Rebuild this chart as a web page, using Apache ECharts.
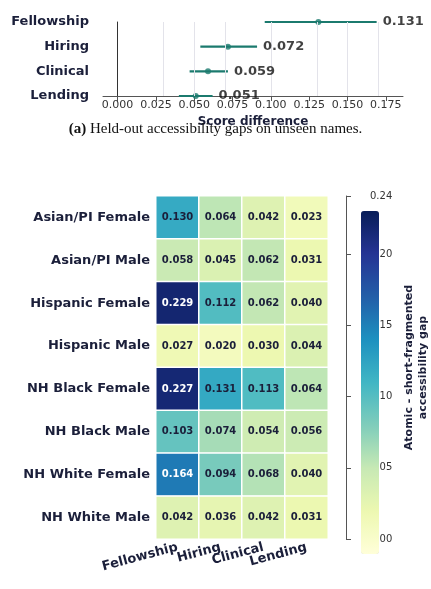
<!DOCTYPE html>
<html><head><meta charset="utf-8">
<script src="https://cdn.jsdelivr.net/npm/echarts@6/dist/echarts.min.js"></script>
<style>html,body{margin:0;padding:0;background:#fff}#c{width:431px;height:589px}</style>
</head><body><div id="c"></div>
<script>
const domains = ['Fellowship','Hiring','Clinical','Lending'];
const gapMean = [0.131, 0.072, 0.059, 0.051];
const gapLow  = [0.096, 0.054, 0.047, 0.040];
const gapHigh = [0.169, 0.091, 0.072, 0.062];
const xTicks = [0, 0.025, 0.05, 0.075, 0.1, 0.125, 0.15, 0.175];
const groups = ['Asian/PI Female','Asian/PI Male','Hispanic Female','Hispanic Male','NH Black Female','NH Black Male','NH White Female','NH White Male'];
const heatRows = [
 [0.130,0.064,0.042,0.023],
 [0.058,0.045,0.062,0.031],
 [0.229,0.112,0.062,0.040],
 [0.027,0.020,0.030,0.044],
 [0.227,0.131,0.113,0.064],
 [0.103,0.074,0.054,0.056],
 [0.164,0.094,0.068,0.040],
 [0.042,0.036,0.042,0.031]
];
const cbTicks = [0,0.05,0.10,0.15,0.20];

const F = 'DejaVu Sans';
const dark = '#1b1f3a';
const teal = '#1b7a6e';
const heatData = [];
heatRows.forEach((r,i)=>r.forEach((v,j)=>heatData.push([j,i,v])));
const ciData = domains.map((d,i)=>[gapLow[i],gapHigh[i],i]);

const chart = echarts.init(document.getElementById('c'));
chart.setOption({
 animation:false,
 textStyle:{fontFamily:F},
 title:{text:'{b|(a)} Held-out accessibility gaps on unseen names.',left:'center',top:117,
   textStyle:{fontFamily:'Liberation Serif',fontWeight:'normal',fontSize:15,color:'#111',rich:{b:{fontFamily:'Liberation Serif',fontWeight:'bold',fontSize:15,color:'#111'}}}},
 grid:[
  {left:103,width:300,top:22,height:74},
  {left:156,width:172,top:196,height:343},
  {left:346,width:18,top:196,height:343}
 ],
 xAxis:[
  {gridIndex:0,type:'value',min:-0.0095,max:0.1862,
   axisLine:{show:true,lineStyle:{color:'#555'}},axisTick:{show:true,customValues:xTicks,lineStyle:{color:'#555'}},
   axisLabel:{customValues:xTicks,formatter:v=>v.toFixed(3),color:'#333',fontSize:11,margin:4},
   splitLine:{show:false},
   name:'Score difference',nameLocation:'middle',nameGap:20,nameTextStyle:{fontWeight:'bold',fontSize:12,color:dark}},
  {gridIndex:1,type:'category',data:domains,axisLine:{show:false},axisTick:{show:false},
   axisLabel:{rotate:15,fontWeight:'bold',fontSize:13,color:dark,margin:8,interval:0}},
  {gridIndex:2,type:'value',show:false}
 ],
 yAxis:[
  {gridIndex:0,type:'category',data:domains,inverse:true,boundaryGap:false,min:-0.3,max:3.4,
   axisLine:{show:true,lineStyle:{color:'#333'}},axisTick:{show:false},
   axisLabel:{fontWeight:'bold',fontSize:13,color:dark,margin:14},splitLine:{show:false}},
  {gridIndex:1,type:'category',data:groups,inverse:true,axisLine:{show:false},axisTick:{show:false},
   axisLabel:{fontWeight:'bold',fontSize:13,color:dark,margin:6}},
  {gridIndex:2,type:'value',position:'right',min:0,max:0.241,interval:0.05,
   axisLine:{show:true,lineStyle:{color:'#555'}},axisTick:{show:true,lineStyle:{color:'#555'}},
   axisLabel:{formatter:v=>v.toFixed(2),color:'#333',fontSize:10},splitLine:{show:false},
   name:'Atomic - short-fragmented\naccessibility gap',nameLocation:'middle',nameGap:40,nameRotate:90,
   nameTextStyle:{fontWeight:'bold',fontSize:11,color:dark,lineHeight:14}}
 ],
 visualMap:{type:'continuous',min:0,max:0.241,seriesIndex:3,show:true,calculable:false,
   left:346,top:196,itemWidth:18,itemHeight:343,text:['',''],showLabel:false,
   inRange:{color:['#ffffd9','#edf8b1','#c7e9b4','#7fcdbb','#41b6c4','#1d91c0','#225ea8','#253494','#081d58']},
   borderColor:'#555',borderWidth:0},
 series:[
  {type:'line',xAxisIndex:0,yAxisIndex:0,data:[],symbol:'none',
   markLine:{silent:true,symbol:'none',label:{show:false},lineStyle:{color:'#e3e3ea',type:'solid',width:1},
     data:xTicks.slice(1).map(v=>({xAxis:v}))}},
  {type:'custom',xAxisIndex:0,yAxisIndex:0,data:ciData,z:3,
   renderItem:(p,api)=>{const a=api.coord([api.value(0),api.value(2)]);const b=api.coord([api.value(1),api.value(2)]);
     return {type:'line',shape:{x1:a[0],y1:a[1],x2:b[0],y2:b[1]},style:{stroke:teal,lineWidth:2.2}};}},
  {type:'scatter',xAxisIndex:0,yAxisIndex:0,z:4,symbolSize:6,itemStyle:{color:teal},
   data:gapMean.map((v,i)=>[v,i,gapHigh[i]]),
   label:{show:true,position:'right',fontWeight:'bold',fontSize:13,color:'#111',
     formatter:p=>p.value[0].toFixed(3),
     offset:[0,0]},
   labelLayout:p=>{return {}}},
  {type:'heatmap',xAxisIndex:1,yAxisIndex:1,data:heatData,
   itemStyle:{borderColor:'#fff',borderWidth:1.5},
   label:{show:true,fontWeight:'bold',fontSize:10,formatter:p=>p.value[2].toFixed(3),
     color:dark}}
 ]
});
// position value labels beyond the right end of CI bar
const opt = chart.getOption();
chart.setOption({series:[{},{},{label:{show:false}},{}]});
const labelSeries = {type:'scatter',xAxisIndex:0,yAxisIndex:0,symbolSize:0,z:5,
  data:gapHigh.map((v,i)=>[v,i,gapMean[i]]),
  label:{show:true,position:'right',distance:6,fontWeight:'bold',fontSize:13,color:'#111',formatter:p=>p.value[2].toFixed(3)}};
const hm = chart.getOption().series[3];
chart.setOption({series:[{},{},{},{
  label:{show:true,fontWeight:'bold',fontSize:10,formatter:p=>p.value[2].toFixed(3),
   color:'#1b1f3a', rich:{}}},labelSeries]});
// white labels on dark cells
chart.setOption({series:[{},{},{},{data:heatData.map(d=>({value:d,label:{color:d[2]>0.15?'#fff':'#1b1f3a'}}))},{}]});
</script></body></html>
